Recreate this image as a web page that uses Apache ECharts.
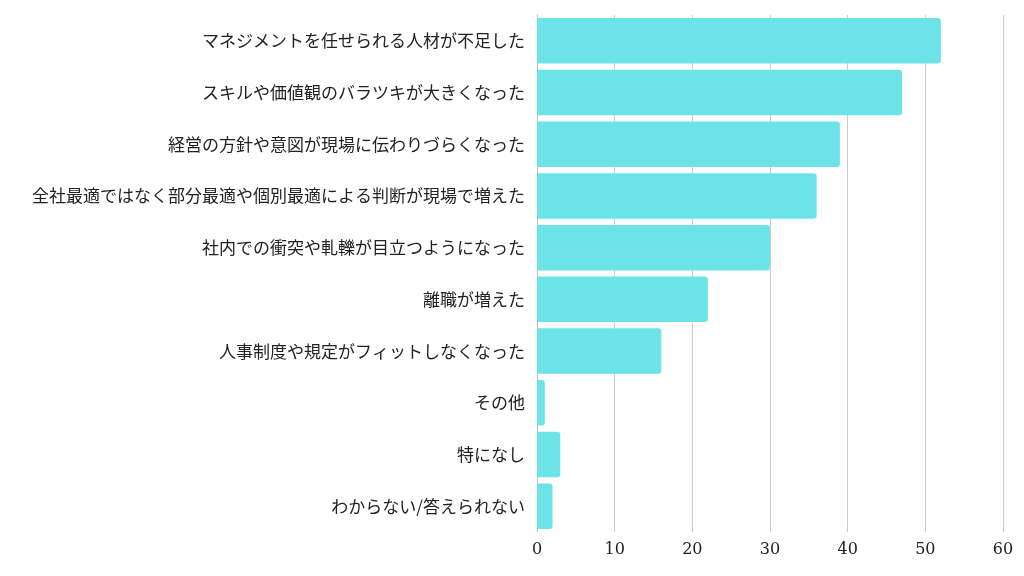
<!DOCTYPE html>
<html>
<head>
<meta charset="utf-8">
<script src="https://cdn.jsdelivr.net/npm/echarts@6/dist/echarts.min.js"></script>
<style>html,body{margin:0;padding:0;background:#fff}#chart{width:1024px;height:576px}</style>
</head>
<body>
<div id="chart"></div>
<script>
var categories = [
  "マネジメントを任せられる人材が不足した",
  "スキルや価値観のバラツキが大きくなった",
  "経営の方針や意図が現場に伝わりづらくなった",
  "全社最適ではなく部分最適や個別最適による判断が現場で増えた",
  "社内での衝突や軋轢が目立つようになった",
  "離職が増えた",
  "人事制度や規定がフィットしなくなった",
  "その他",
  "特になし",
  "わからない/答えられない"
];
var values = [52, 47, 39, 36, 30, 22, 16, 1, 3, 2];

var chart = echarts.init(document.getElementById("chart"));
chart.setOption({
  animation: false,
  grid: {left: 537, right: 21, top: 15, bottom: 44},
  xAxis: {
    type: "value", min: 0, max: 60, interval: 10,
    axisLine: {show: false}, axisTick: {show: false},
    splitLine: {lineStyle: {color: "#cccccc", width: 1}},
    axisLabel: {color: "#222", fontFamily: "DejaVu Serif", fontSize: 16, margin: 10}
  },
  yAxis: {
    type: "category", data: categories, inverse: true,
    axisLine: {show: true, lineStyle: {color: "#bbbbbb"}},
    axisTick: {show: false},
    axisLabel: {color: "#222", fontFamily: "Noto Sans CJK JP", fontSize: 17, margin: 12}
  },
  series: [{
    type: "bar", data: values, barCategoryGap: "12%",
    itemStyle: {color: "#6ce3e6", borderRadius: [0, 3, 3, 0]}
  }]
});
</script>
</body>
</html>
